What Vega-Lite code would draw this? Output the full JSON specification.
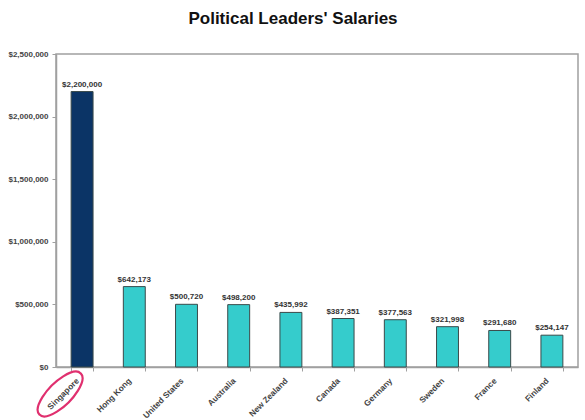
{
  "$schema": "https://vega.github.io/schema/vega-lite/v6.json",
  "width": 522,
  "height": 313,
  "autosize": "none",
  "padding": {"left": 56, "top": 54, "right": 7, "bottom": 53},
  "background": "white",
  "view": {"stroke": "#a0a0a0", "strokeWidth": 1.5},
  "config": {"font": "Liberation Sans"},
  "title": {
    "text": "Political Leaders' Salaries",
    "fontSize": 17,
    "fontWeight": "bold",
    "color": "#111",
    "anchor": "middle",
    "dx": -24,
    "offset": 22
  },
  "data": {
    "values": [
      {"country": "Singapore", "salary": 2200000, "group": "highlight"},
      {"country": "Hong Kong", "salary": 642173, "group": "other"},
      {"country": "United States", "salary": 500720, "group": "other"},
      {"country": "Australia", "salary": 498200, "group": "other"},
      {"country": "New Zealand", "salary": 435992, "group": "other"},
      {"country": "Canada", "salary": 387351, "group": "other"},
      {"country": "Germany", "salary": 377563, "group": "other"},
      {"country": "Sweden", "salary": 321998, "group": "other"},
      {"country": "France", "salary": 291680, "group": "other"},
      {"country": "Finland", "salary": 254147, "group": "other"}
    ]
  },
  "encoding": {
    "x": {
      "field": "country",
      "type": "nominal",
      "sort": null,
      "scale": {"paddingInner": 0.58, "paddingOuter": 0.29},
      "axis": {
        "title": null,
        "labelAngle": -45,
        "labelFontSize": 8.3,
        "labelFontWeight": "bold",
        "labelColor": "#444",
        "labelPadding": 5,
        "labelOffset": -8,
        "tickBand": "extent",
        "domainColor": "#a0a0a0",
        "domainWidth": 1.5,
        "tickColor": "#a0a0a0",
        "tickSize": 4
      }
    },
    "y": {
      "field": "salary",
      "type": "quantitative",
      "scale": {"domain": [0, 2500000]},
      "axis": {
        "title": null,
        "values": [0, 500000, 1000000, 1500000, 2000000, 2500000],
        "format": "$,.0f",
        "grid": false,
        "labelFontSize": 8,
        "labelFontWeight": "bold",
        "labelColor": "#444",
        "domainColor": "#a0a0a0",
        "domainWidth": 1.5,
        "tickColor": "#a0a0a0",
        "tickSize": 4,
        "labelPadding": 4
      }
    }
  },
  "layer": [
    {
      "mark": {"type": "bar", "stroke": "#3a4a4a", "strokeWidth": 1},
      "encoding": {
        "color": {
          "field": "group",
          "type": "nominal",
          "scale": {"domain": ["highlight", "other"], "range": ["#0b3466", "#35cccc"]},
          "legend": null
        }
      }
    },
    {
      "mark": {"type": "text", "dy": -7, "fontSize": 8, "fontWeight": "bold", "color": "#333"},
      "encoding": {
        "text": {"field": "salary", "type": "quantitative", "format": "$,.0f"}
      }
    },
    {
      "transform": [{"filter": "datum.group === 'highlight'"}],
      "mark": {
        "type": "point",
        "shape": "M 0.707 -0.707 A 1 0.4 -45 1 0 -0.707 0.707 A 1 0.4 -45 1 0 0.707 -0.707 Z",
        "filled": false,
        "stroke": "#e0306f",
        "strokeWidth": 2.2,
        "size": 3400,
        "xOffset": -22,
        "yOffset": 27,
        "opacity": 1
      },
      "encoding": {
        "y": {"datum": 0, "type": "quantitative"}
      }
    }
  ]
}
